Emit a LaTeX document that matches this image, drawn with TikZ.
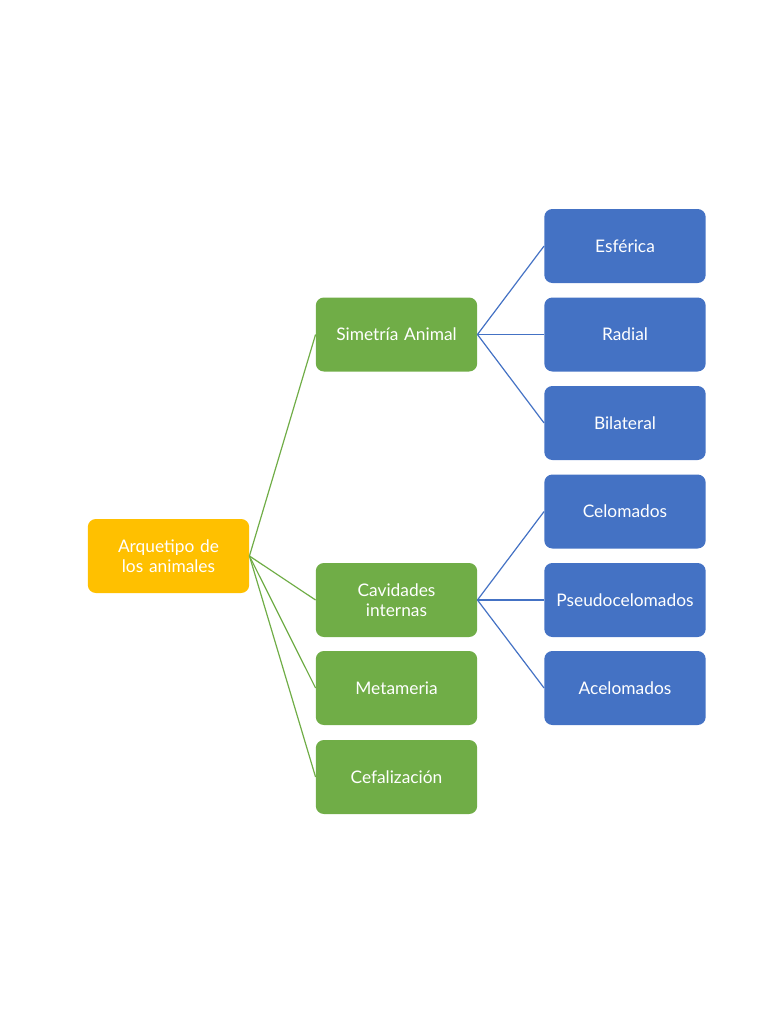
\documentclass[tikz,border=0pt]{standalone}
\usepackage{fontspec}
\setmainfont{Lato}
\begin{document}
\begin{tikzpicture}[x=0.75pt,y=-0.75pt,
 box/.style={rounded corners=6pt,minimum width=121pt,minimum height=55.5pt,text width=112pt,align=center,text=white,font=\fontsize{13}{15}\selectfont,inner sep=2pt},
 root/.style={box,fill=orange1},
 grn/.style={box,fill=green1},
 blu/.style={box,fill=blue1},
 gl/.style={draw=green1,line width=0.9pt},
 bl/.style={draw=blue1,line width=0.9pt}]
\definecolor{orange1}{HTML}{FFC000}
\definecolor{green1}{HTML}{70AD47}
\definecolor{blue1}{HTML}{4472C4}
\useasboundingbox (0,0) rectangle (768,1024);
\node[root] (r) at (168.5,556) {Arquetipo de los animales};
\node[grn] (g1) at (396.5,334.5) {Simetría Animal};
\node[grn] (g2) at (396.5,600) {Cavidades\\internas};
\node[grn] (g3) at (396.5,688) {Metameria};
\node[grn] (g4) at (396.5,777) {Cefalización};
\node[blu] (b1) at (625,246) {Esférica};
\node[blu] (b2) at (625,334.5) {Radial};
\node[blu] (b3) at (625,423) {Bilateral};
\node[blu] (b4) at (625,511.5) {Celomados};
\node[blu] (b5) at (625,600) {Pseudocelomados};
\node[blu] (b6) at (625,688) {Acelomados};
\foreach \g in {g1,g2,g3,g4} \draw[gl] (r.east) -- (\g.west);
\foreach \b in {b1,b2,b3} \draw[bl] (g1.east) -- (\b.west);
\foreach \b in {b4,b5,b6} \draw[bl] (g2.east) -- (\b.west);
\end{tikzpicture}
\end{document}
